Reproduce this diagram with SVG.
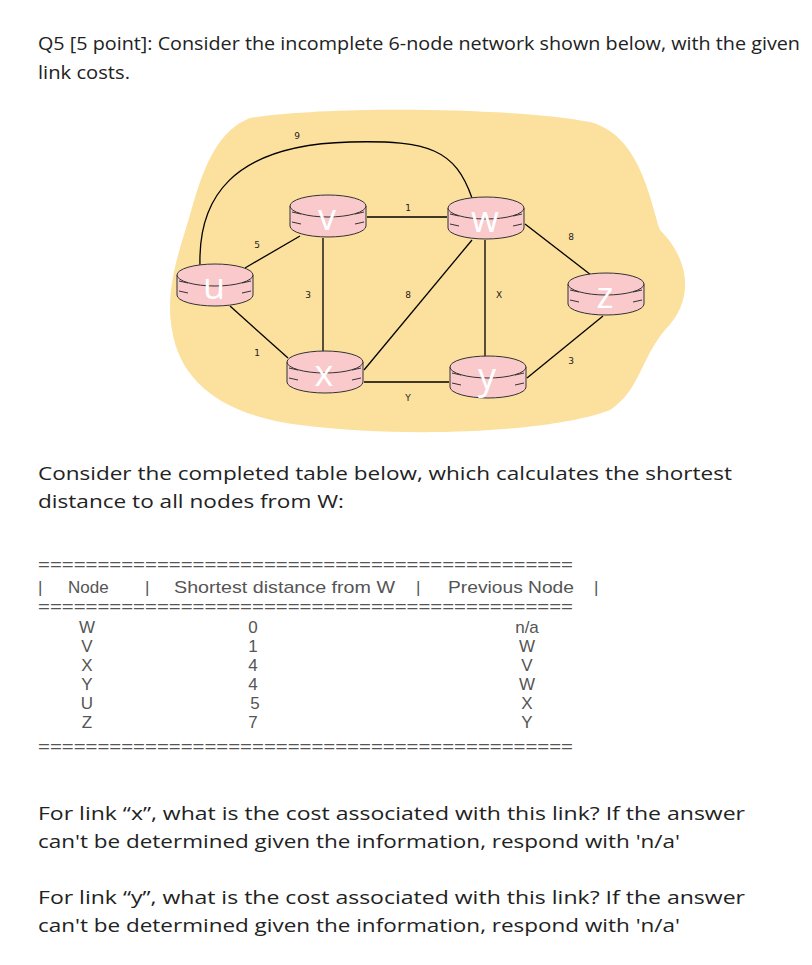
<svg xmlns="http://www.w3.org/2000/svg" width="812" height="965" viewBox="0 0 812 965">
<style>
.t{font-family:"Open Sans","Liberation Sans",sans-serif;fill:#222}
.q{font-family:"Open Sans","DejaVu Sans",sans-serif;font-size:19px;fill:#222}
.tb{font-family:"Liberation Sans",Arial,sans-serif;font-size:17px;fill:#555}
.lb{font-family:"DejaVu Sans",sans-serif;font-size:9px;fill:#222;text-anchor:middle}
.e{stroke:#000;stroke-width:1.3;fill:none}
.body{fill:#f9c9cc;stroke:#333;stroke-width:1}
.nl{font-family:"Open Sans","Liberation Sans",sans-serif;font-size:36px;fill:#fff;text-anchor:middle}
.d{stroke:#333;stroke-width:1;fill:none}
</style>
<defs>
<g id="r">
<path class="body" d="M-38,-10 V10 A38,11 0 0 0 38,10 V-10"/>
<ellipse class="body" cx="0" cy="-10" rx="38" ry="11"/>
<path class="d" d="M-36,-4 l9,2 M27,-2 l9,-2 M-27,8 l-9,-2 M27,8 l9,-2"/>
</g>
</defs>
<rect width="812" height="965" fill="#fff"/>
<text class="t" x="38" y="50" font-size="18" textLength="762" lengthAdjust="spacingAndGlyphs">Q5 [5 point]: Consider the incomplete 6-node network shown below, with the given</text>
<text class="t" x="38" y="79" font-size="18" textLength="92" lengthAdjust="spacingAndGlyphs">link costs.</text>
<path fill="#fce09d" d="M250,118 C330,105 520,108 590,122 C640,135 650,200 660,230 C690,260 695,300 665,330 C640,360 640,390 610,410 C560,430 420,440 300,425 C220,415 180,380 172,330 C165,290 178,255 190,215 C205,160 220,130 250,118 Z"/>
<g id="connectors">
<path class="e" d="M200,266 C198,200 230,145 350,142 C430,140 455,150 472,198"/>
<line class="e" x1="245" y1="268" x2="300" y2="236"/>
<line class="e" x1="230" y1="306" x2="288" y2="358"/>
<line class="e" x1="323" y1="238" x2="323" y2="353"/>
<line class="e" x1="367" y1="217" x2="447" y2="217"/>
<line class="e" x1="364" y1="370" x2="472" y2="240"/>
<line class="e" x1="485" y1="240" x2="485" y2="358"/>
<line class="e" x1="525" y1="224" x2="591" y2="275"/>
<line class="e" x1="364" y1="382" x2="449" y2="382"/>
<line class="e" x1="527" y1="378" x2="603" y2="316"/>
</g>
<g id="labels">
<text class="lb" x="297" y="139">9</text>
<text class="lb" x="408" y="211">1</text>
<text class="lb" x="257" y="248">5</text>
<text class="lb" x="308" y="298">3</text>
<text class="lb" x="408" y="298">8</text>
<text class="lb" x="499" y="298">X</text>
<text class="lb" x="571" y="240">8</text>
<text class="lb" x="257" y="356">1</text>
<text class="lb" x="408" y="401">Y</text>
<text class="lb" x="571" y="364">3</text>
</g>
<g id="node-u"><use href="#r" x="215" y="285"/><text class="nl" x="214" y="299">u</text></g>
<g id="node-v"><use href="#r" x="328" y="216"/><text class="nl" x="327" y="230">v</text></g>
<g id="node-w"><use href="#r" x="486" y="218"/><text class="nl" x="485" y="232">w</text></g>
<g id="node-z"><use href="#r" x="606" y="294"/><text class="nl" x="605" y="308">z</text></g>
<g id="node-x"><use href="#r" x="325" y="372"/><text class="nl" x="324" y="386">x</text></g>
<g id="node-y"><use href="#r" x="488" y="377"/><text class="nl" x="487" y="389">y</text></g>
<text class="q" x="38" y="480" textLength="694" lengthAdjust="spacingAndGlyphs">Consider the completed table below, which calculates the shortest</text>
<text class="q" x="38" y="508" textLength="306" lengthAdjust="spacingAndGlyphs">distance to all nodes from W:</text>
<g class="tb">
<text x="38" y="570" textLength="535" lengthAdjust="spacingAndGlyphs">=============================================</text>
<text x="38" y="612" textLength="535" lengthAdjust="spacingAndGlyphs">=============================================</text>
<text x="38" y="752" textLength="535" lengthAdjust="spacingAndGlyphs">=============================================</text>
<text x="38" y="593">|</text><text x="68" y="593">Node</text><text x="145" y="593">|</text>
<text x="174" y="593" textLength="221" lengthAdjust="spacingAndGlyphs">Shortest distance from W</text><text x="416" y="593">|</text>
<text x="448" y="593" textLength="126" lengthAdjust="spacingAndGlyphs">Previous Node</text><text x="594" y="593">|</text>
<g text-anchor="middle">
<text x="87" y="633">W</text><text x="87" y="652">V</text><text x="87" y="671">X</text><text x="87" y="690">Y</text><text x="87" y="709">U</text><text x="87" y="728">Z</text>
<text x="253" y="633">0</text><text x="253" y="652">1</text><text x="253" y="671">4</text><text x="253" y="690">4</text><text x="255" y="709">5</text><text x="253" y="728">7</text>
<text x="527" y="633">n/a</text><text x="527" y="652">W</text><text x="527" y="671">V</text><text x="527" y="690">W</text><text x="527" y="709">X</text><text x="527" y="728">Y</text>
</g>
</g>
<text class="q" x="38" y="820" textLength="707" lengthAdjust="spacingAndGlyphs">For link “x”, what is the cost associated with this link? If the answer</text>
<text class="q" x="38" y="848" textLength="642" lengthAdjust="spacingAndGlyphs">can't be determined given the information, respond with 'n/a'</text>
<text class="q" x="38" y="904" textLength="707" lengthAdjust="spacingAndGlyphs">For link “y”, what is the cost associated with this link? If the answer</text>
<text class="q" x="38" y="932" textLength="642" lengthAdjust="spacingAndGlyphs">can't be determined given the information, respond with 'n/a'</text>
</svg>
